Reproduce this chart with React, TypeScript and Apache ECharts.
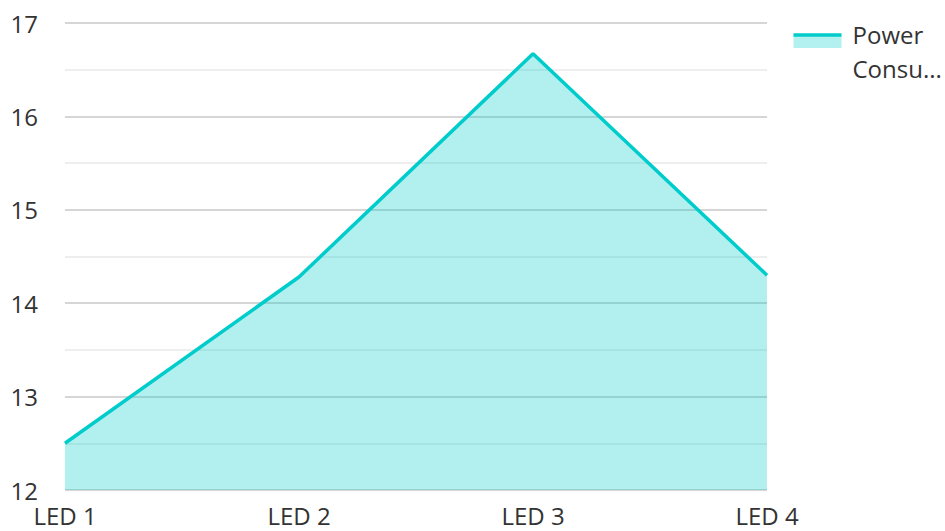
import React, { useEffect, useRef } from "react";
import * as echarts from "echarts";

const categories = ["LED 1", "LED 2", "LED 3", "LED 4"];
const powerValues = [12.5, 14.28, 16.67, 14.3];
const seriesName = "Power Consumption";
const legendLines = ["Power", "Consu..."];

const LINE = "#00cccc";
const AREA = "#b3f0f0";
const FONT = "'Open Sans', 'Noto Sans', sans-serif";

export default function App() {
  const ref = useRef<HTMLDivElement>(null);
  useEffect(() => {
    if (!ref.current) return;
    const chart = echarts.init(ref.current, undefined, { renderer: "svg" });
    chart.setOption({
      animation: false,
      textStyle: { fontFamily: FONT },
      grid: { left: 65, right: 178, top: 23, bottom: 41, containLabel: false },
      xAxis: {
        type: "category",
        data: categories,
        boundaryGap: false,
        axisLine: { show: false },
        axisTick: { show: false },
        axisLabel: { color: "#333", fontSize: 24, fontFamily: FONT, margin: 13 },
        splitLine: { show: false },
      },
      yAxis: {
        type: "value",
        min: 12,
        max: 17,
        interval: 1,
        axisLine: { show: false },
        axisTick: { show: false },
        axisLabel: { color: "#333", fontSize: 24, fontFamily: FONT, margin: 27 },
        splitLine: { show: true, lineStyle: { color: "#c8c8c8", width: 1.5 } },
        minorTick: { show: false, splitNumber: 2 },
        minorSplitLine: { show: true, lineStyle: { color: "#e8e8e8", width: 1.5 } },
      },
      series: [
        {
          name: seriesName,
          type: "line",
          data: powerValues,
          showSymbol: false,
          symbol: "none",
          lineStyle: { color: LINE, width: 3.5 },
          itemStyle: { color: LINE },
          areaStyle: { color: LINE, opacity: 0.3 },
        },
      ],
      graphic: [
        {
          type: "group",
          left: 791,
          top: 17,
          children: [
            { type: "rect", shape: { x: 0, y: 18, width: 48, height: 13 }, style: { fill: AREA } },
            { type: "line", shape: { x1: 0, y1: 18, x2: 48, y2: 18 }, style: { stroke: LINE, lineWidth: 3.5 } },
            {
              type: "text",
              x: 59,
              y: 0,
              style: {
                text: legendLines.join("\n"),
                fill: "#333",
                font: `24px ${FONT}`,
                lineHeight: 34,
              },
            },
          ],
        },
      ],
    });
    return () => chart.dispose();
  }, []);
  return <div ref={ref} style={{ width: 945, height: 531, position: "absolute", left: 0, top: 0 }} />;
}
